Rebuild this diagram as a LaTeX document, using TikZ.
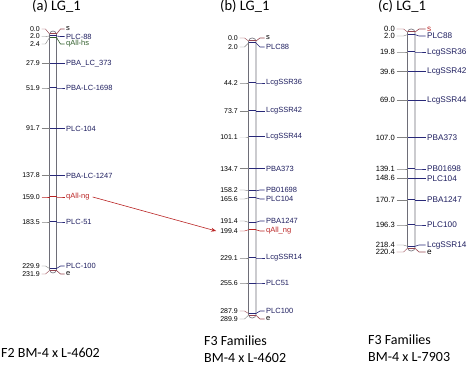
\documentclass[tikz,border=0pt]{standalone}
\usepackage{fontspec}
\setmainfont{Liberation Sans}
\newfontfamily\calfont{Carlito}
\usetikzlibrary{arrows.meta}
\definecolor{navy}{RGB}{30,30,95}
\definecolor{tickc}{RGB}{40,40,120}
\definecolor{qred}{RGB}{185,35,35}
\definecolor{lgray}{RGB}{130,130,130}
\definecolor{telo}{RGB}{150,70,80}
\definecolor{hsgreen}{RGB}{50,95,45}
\definecolor{barc}{RGB}{110,110,120}
\tikzset{
 num/.style={inner sep=0pt, font=\fontsize{7}{8}\selectfont, text=black},
 lab/.style={inner sep=0pt, font=\fontsize{7.5}{8}\selectfont, text=navy},
 ttl/.style={inner sep=0pt, font=\calfont\fontsize{14.5}{16}\selectfont, anchor=base west},
 captxt/.style={inner sep=0pt, font=\calfont\fontsize{14}{16}\selectfont, anchor=base west},
 bar/.style={draw=barc, line width=0.6pt, fill=white, rounded corners=3.5pt},
}
\newcommand\mk[8]{% id, tick y, label y, number, name, label colour, tick colour, side colour
 \node[num, anchor=east] (#1n) at (\numx,#3) {#4};
 \node[lab, anchor=west, text=#6] (#1l) at (\labx,#3) {#5};
 \coordinate (#1a) at (\barl,#2);
 \coordinate (#1b) at (\barr,#2);
 \draw[#8, line width=0.4pt] ([xshift=1.5pt]#1n.east) -- (\barl-4,#3) -- (#1a);
 \draw[#7, line width=1pt] (#1a) -- (#1b);
 \draw[#7, line width=0.6pt] (#1b) -- (\barr+4,#3) -- ([xshift=-1.5pt]#1l.west);
}
\begin{document}
\begin{tikzpicture}[x=1pt,y=-1pt]
\useasboundingbox (0,0) rectangle (474,366);
% titles
\node[ttl] (ta) at (32,11) {(a) LG\_1};
\node[ttl] (tb) at (220,11) {(b) LG\_1};
\node[ttl] (tc) at (378,11) {(c) LG\_1};
% captions
\node[captxt] (ca) at (1,357) {F2 BM-4 x L-4602};
\node[captxt] (cb1) at (204,345) {F3 Families};
\node[captxt] (cb2) at (204,362) {BM-4 x L-4602};
\node[captxt] (cc1) at (368,344) {F3 Families};
\node[captxt] (cc2) at (368,361) {BM-4 x L-7903};
% ---------------- (a)
\begin{scope}
\def\barl{49.5}\def\barr{56.5}\def\numx{40}\def\labx{66}
\draw[bar] (\barl,31) rectangle (\barr,273);
\mk{as}{34}{29}{0.0}{s}{black}{telo}{telo}
\mk{aplc}{36}{36.5}{2.0}{PLC-88}{navy}{tickc}{lgray}
\mk{ahs}{37.5}{44}{2.4}{qAll-hs}{hsgreen}{hsgreen}{lgray}
\mk{ab}{63.5}{63.5}{27.9}{PBA\_LC\_373}{navy}{tickc}{lgray}
\mk{ac}{88}{88}{51.9}{PBA-LC-1698}{navy}{tickc}{lgray}
\mk{ad}{128.5}{128.5}{91.7}{PLC-104}{navy}{tickc}{lgray}
\mk{af}{175.5}{175.5}{137.8}{PBA-LC-1247}{navy}{tickc}{lgray}
\mk{aq}{197}{197}{159.0}{qAll-ng}{qred}{qred}{qred}
\mk{ag}{222}{222}{183.5}{PLC-51}{navy}{tickc}{lgray}
\mk{ah}{268.5}{266}{229.9}{PLC-100}{navy}{tickc}{lgray}
\mk{ae}{270.5}{274}{231.9}{e}{black}{telo}{telo}
\end{scope}
% ---------------- (b)
\begin{scope}
\def\barl{248.5}\def\barr{256}\def\numx{238}\def\labx{266}
\draw[bar] (\barl,38) rectangle (\barr,318);
\mk{bs}{41}{38}{0.0}{s}{black}{telo}{telo}
\mk{bplc}{43}{47}{2.0}{PLC88}{navy}{tickc}{lgray}
\mk{bb}{83}{83}{44.2}{LcgSSR36}{navy}{tickc}{lgray}
\mk{bc}{110.9}{110.9}{73.7}{LcgSSR42}{navy}{tickc}{lgray}
\mk{bd}{136.8}{136.8}{101.1}{LcgSSR44}{navy}{tickc}{lgray}
\mk{bf}{168.6}{168.6}{134.7}{PBA373}{navy}{tickc}{lgray}
\mk{bg}{190.9}{190}{158.2}{PB01698}{navy}{tickc}{lgray}
\mk{bh}{197.9}{199}{165.6}{PLC104}{navy}{tickc}{lgray}
\mk{bi}{222.3}{221}{191.4}{PBA1247}{navy}{tickc}{lgray}
\mk{bq}{229.8}{231}{199.4}{qAll\_ng}{qred}{qred}{qred}
\mk{bj}{258}{258}{229.1}{LcgSSR14}{navy}{tickc}{lgray}
\mk{bk}{283}{283}{255.6}{PLC51}{navy}{tickc}{lgray}
\mk{bm}{313.5}{311}{287.9}{PLC100}{navy}{tickc}{telo}
\mk{be}{315.3}{319}{289.9}{e}{black}{telo}{lgray}
\end{scope}
% ---------------- (c)
\begin{scope}[num/.append style={font=\fontsize{7.6}{8}\selectfont},
              lab/.append style={font=\fontsize{8.2}{9}\selectfont}]
\def\barl{407.5}\def\barr{415}\def\numx{395}\def\labx{427}
\draw[bar] (\barl,29) rectangle (\barr,251);
\mk{cs}{32}{29}{0.0}{s}{qred}{telo}{telo}
\mk{cplc}{34.6}{36}{2.0}{PLC88}{navy}{tickc}{lgray}
\mk{cb}{52}{52}{19.8}{LcgSSR36}{navy}{tickc}{lgray}
\mk{cc}{71.4}{71.4}{39.6}{LcgSSR42}{navy}{tickc}{lgray}
\mk{cd}{100.2}{100.2}{69.0}{LcgSSR44}{navy}{tickc}{lgray}
\mk{cf}{137.5}{137.5}{107.0}{PBA373}{navy}{tickc}{lgray}
\mk{cg}{169}{169}{139.1}{PB01698}{navy}{tickc}{lgray}
\mk{ch}{178.2}{178.2}{148.6}{PLC104}{navy}{tickc}{lgray}
\mk{ci}{199.9}{199.9}{170.7}{PBA1247}{navy}{tickc}{lgray}
\mk{cj}{225}{225}{196.3}{PLC100}{navy}{tickc}{lgray}
\mk{ck}{246.3}{245}{218.4}{LcgSSR14}{navy}{tickc}{lgray}
\mk{ce}{248.3}{252}{220.4}{e}{black}{telo}{telo}
\end{scope}
% arrow from QTL in (a) to QTL in (b)
\draw[qred, line width=0.6pt, -{Stealth[length=5pt,width=4pt]}]
  ([xshift=3pt]aql.east) -- ([xshift=-4pt]bqn.west);
\end{tikzpicture}
\end{document}
